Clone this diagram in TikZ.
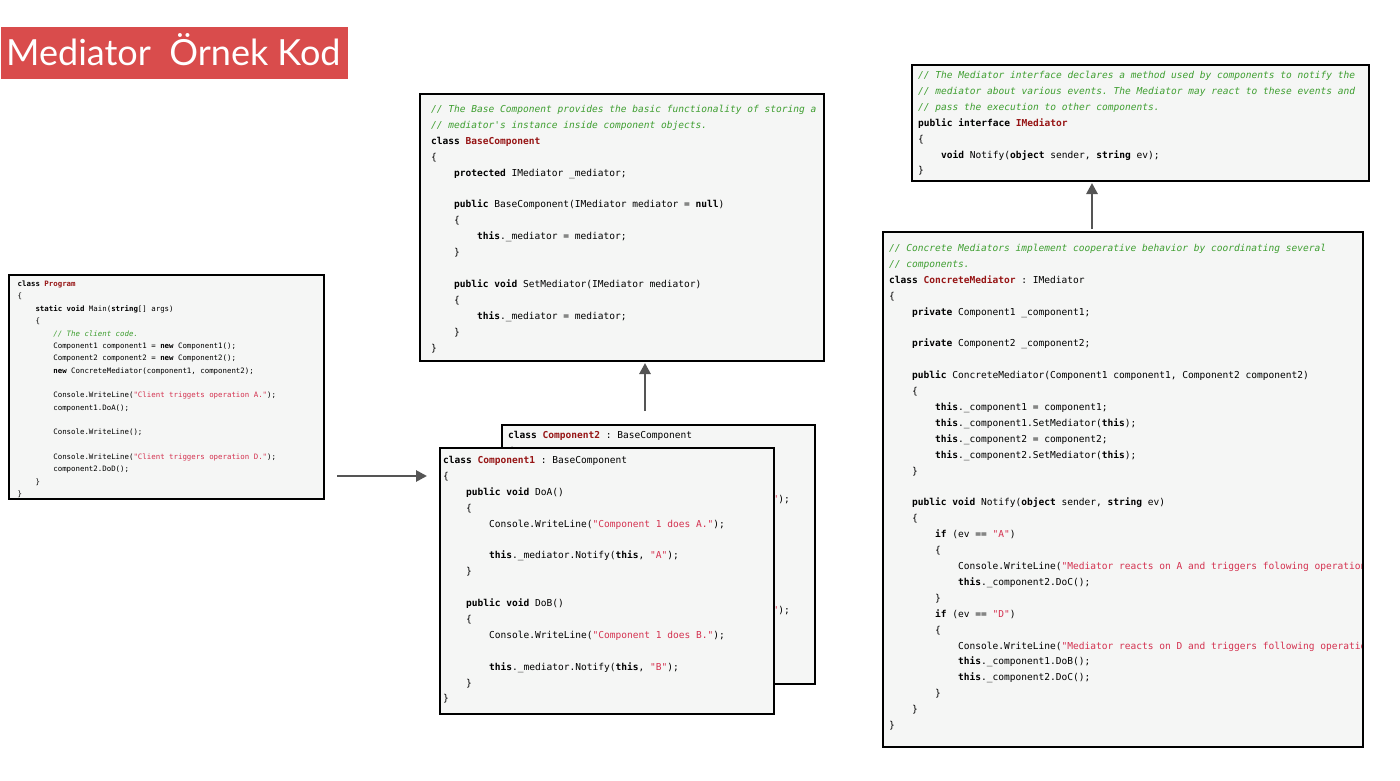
\documentclass[tikz,border=0pt]{standalone}
\usepackage{fontspec}
\setmonofont{DejaVu Sans Mono}
\newfontfamily\titlefont{Lato}
\usetikzlibrary{arrows.meta}
\definecolor{codebg}{RGB}{245,246,245}
\definecolor{clsred}{RGB}{150,20,20}
\definecolor{cmtgreen}{RGB}{62,158,48}
\definecolor{strred}{RGB}{212,50,80}
\definecolor{titlered}{RGB}{217,76,76}
\definecolor{linkgray}{RGB}{85,85,85}
\newcommand\kw[1]{\textbf{#1}}
\newcommand\cls[1]{\textbf{\color{clsred}#1}}
\newcommand\cmt[1]{\textit{\color{cmtgreen}#1}}
\newcommand\strg[1]{{\color{strred}#1}}
\newcommand\ind{\phantom{xxxx}}
\tikzset{
  codebox/.style={draw=black, line width=1.6pt, fill=codebg, anchor=north west, inner sep=0pt, outer sep=0pt},
  codetext/.style={anchor=north west, inner sep=0pt, align=left, font=\ttfamily\fontsize{9.55}{15.9}\selectfont},
  smallcode/.style={codetext, font=\ttfamily\fontsize{7.4}{12.35}\selectfont},
  linkarrow/.style={draw=linkgray, line width=2.7pt, -{Triangle[length=11pt,width=11pt]}}
}
\begin{document}
\begin{tikzpicture}[x=1pt, y=-1pt]
\useasboundingbox (0,0) rectangle (1400,781);
\node [fill=titlered, anchor=north west, minimum width=347pt, minimum height=52pt, inner sep=0pt] (title) at (1,27) {};
\node [anchor=base west, text=white, inner sep=0pt, font=\titlefont\fontsize{36}{40}\selectfont] (titletext) at (6,66) {Mediator\ \ Örnek Kod};

\node [codebox, minimum width=315pt, minimum height=224pt] (prog) at (9,275) {};
\node [smallcode] (progcode) at (17.5,280.8) {%
\kw{class} \cls{Program}\\
\{\\
\ind\kw{static} \kw{void} Main(\kw{string}[] args)\\
\ind\{\\
\ind\ind\cmt{// The client code.}\\
\ind\ind Component1 component1 = \kw{new} Component1();\\
\ind\ind Component2 component2 = \kw{new} Component2();\\
\ind\ind\kw{new} ConcreteMediator(component1, component2);\\
~\\
\ind\ind Console.WriteLine(\strg{"Client triggets operation A."});\\
\ind\ind component1.DoA();\\
~\\
\ind\ind Console.WriteLine();\\
~\\
\ind\ind Console.WriteLine(\strg{"Client triggers operation D."});\\
\ind\ind component2.DoD();\\
\ind\}\\
\}};

\node [codebox, minimum width=404pt, minimum height=267pt] (base) at (420,94) {};
\node [codetext] (basecode) at (431,105) {%
\cmt{// The Base Component provides the basic functionality of storing a}\\
\cmt{// mediator's instance inside component objects.}\\
\kw{class} \cls{BaseComponent}\\
\{\\
\ind\kw{protected} IMediator \_mediator;\\
~\\
\ind\kw{public} BaseComponent(IMediator mediator = \kw{null})\\
\ind\{\\
\ind\ind\kw{this}.\_mediator = mediator;\\
\ind\}\\
~\\
\ind\kw{public} \kw{void} SetMediator(IMediator mediator)\\
\ind\{\\
\ind\ind\kw{this}.\_mediator = mediator;\\
\ind\}\\
\}};

\node [codebox, minimum width=457pt, minimum height=116pt] (imed) at (912,65) {};
\node [codetext] (imedcode) at (918,71) {%
\cmt{// The Mediator interface declares a method used by components to notify the}\\
\cmt{// mediator about various events. The Mediator may react to these events and}\\
\cmt{// pass the execution to other components.}\\
\kw{public} \kw{interface} \cls{IMediator}\\
\{\\
\ind\kw{void} Notify(\kw{object} sender, \kw{string} ev);\\
\}};

\node [codebox, minimum width=313pt, minimum height=259pt] (comp2) at (502,425) {};
\node [codetext] (comp2code) at (508,431) {%
\kw{class} \cls{Component2} : BaseComponent\\
\{\\
\ind\kw{public} \kw{void} DoC()\\
\ind\{\\
\ind\ind Console.WriteLine(\strg{"Component 2 does C."});\\
~\\
\ind\ind\kw{this}.\_mediator.Notify(\kw{this}, \strg{"C"});\\
\ind\}\\
~\\
\ind\kw{public} \kw{void} DoD()\\
\ind\{\\
\ind\ind Console.WriteLine(\strg{"Component 2 does D."});\\
~\\
\ind\ind\kw{this}.\_mediator.Notify(\kw{this}, \strg{"D"});\\
\ind\}\\
\}};

\node [codebox, minimum width=334pt, minimum height=266pt] (comp1) at (440,448) {};
\node [codetext] (comp1code) at (443,456) {%
\kw{class} \cls{Component1} : BaseComponent\\
\{\\
\ind\kw{public} \kw{void} DoA()\\
\ind\{\\
\ind\ind Console.WriteLine(\strg{"Component 1 does A."});\\
~\\
\ind\ind\kw{this}.\_mediator.Notify(\kw{this}, \strg{"A"});\\
\ind\}\\
~\\
\ind\kw{public} \kw{void} DoB()\\
\ind\{\\
\ind\ind Console.WriteLine(\strg{"Component 1 does B."});\\
~\\
\ind\ind\kw{this}.\_mediator.Notify(\kw{this}, \strg{"B"});\\
\ind\}\\
\}};

\node [codebox, draw=none, minimum width=480pt, minimum height=515pt] (cm) at (883,232) {};
\begin{scope}
\clip (cm.north west) rectangle (cm.south east);
\node [codetext] (cmcode) at (889,244) {%
\cmt{// Concrete Mediators implement cooperative behavior by coordinating several}\\
\cmt{// components.}\\
\kw{class} \cls{ConcreteMediator} : IMediator\\
\{\\
\ind\kw{private} Component1 \_component1;\\
~\\
\ind\kw{private} Component2 \_component2;\\
~\\
\ind\kw{public} ConcreteMediator(Component1 component1, Component2 component2)\\
\ind\{\\
\ind\ind\kw{this}.\_component1 = component1;\\
\ind\ind\kw{this}.\_component1.SetMediator(\kw{this});\\
\ind\ind\kw{this}.\_component2 = component2;\\
\ind\ind\kw{this}.\_component2.SetMediator(\kw{this});\\
\ind\}\\
~\\
\ind\kw{public} \kw{void} Notify(\kw{object} sender, \kw{string} ev)\\
\ind\{\\
\ind\ind\kw{if} (ev == \strg{"A"})\\
\ind\ind\{\\
\ind\ind\ind Console.WriteLine(\strg{"Mediator reacts on A and triggers folowing operations:"});\\
\ind\ind\ind\kw{this}.\_component2.DoC();\\
\ind\ind\}\\
\ind\ind\kw{if} (ev == \strg{"D"})\\
\ind\ind\{\\
\ind\ind\ind Console.WriteLine(\strg{"Mediator reacts on D and triggers following operations:"});\\
\ind\ind\ind\kw{this}.\_component1.DoB();\\
\ind\ind\ind\kw{this}.\_component2.DoC();\\
\ind\ind\}\\
\ind\}\\
\}};
\end{scope}
\draw [line width=1.6pt] (cm.north west) rectangle (cm.south east);

\coordinate (progY) at (0,476);
\coordinate (baseX) at (645,0);
\coordinate (imedX) at (1092,0);
\draw [linkarrow, shorten <=13pt, shorten >=13pt] (prog.east |- progY) -- (comp1.west |- progY);
\draw [linkarrow, shorten <=14pt, shorten >=2pt] (comp2.north -| baseX) -- (base.south -| baseX);
\draw [linkarrow, shorten <=3pt, shorten >=2pt] (cm.north -| imedX) -- (imed.south -| imedX);
\end{tikzpicture}
\end{document}
